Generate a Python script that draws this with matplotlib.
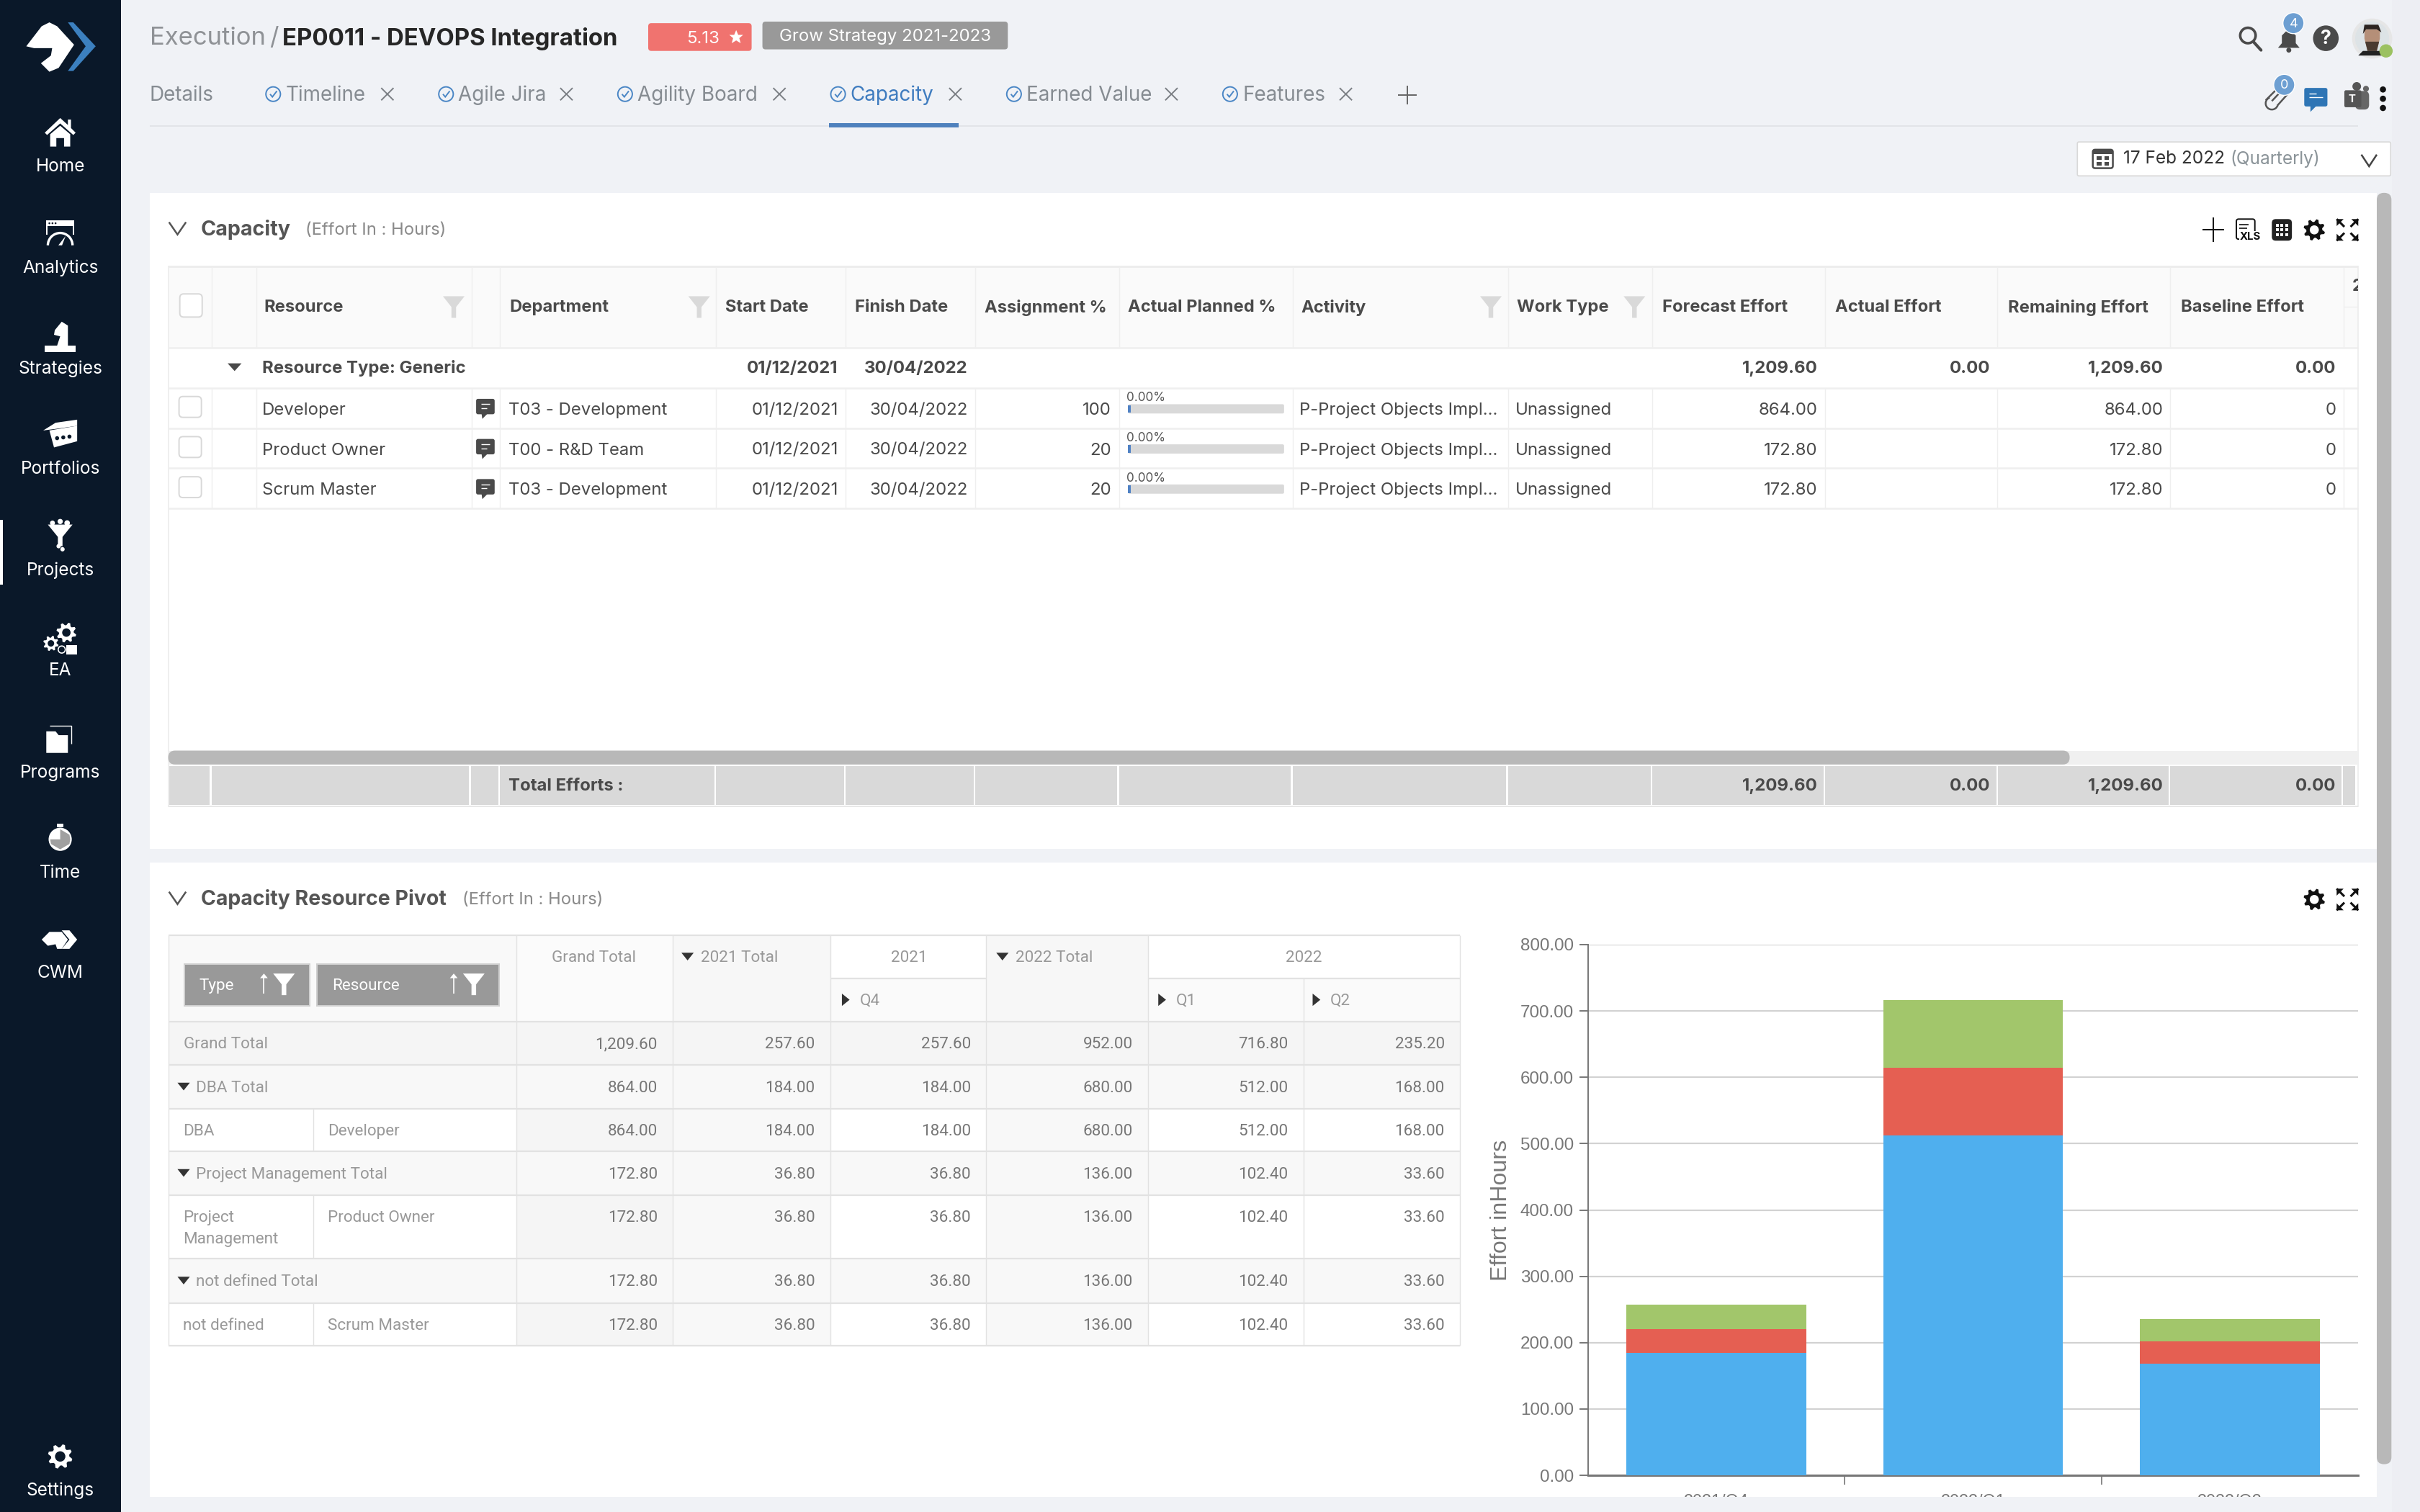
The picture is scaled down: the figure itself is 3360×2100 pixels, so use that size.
"""
Capacity dashboard screenshot redrawn with matplotlib.

The page furniture is drawn on one full-figure axes in screen units (1568 x 980),
the stacked bar chart is a normal axes placed on top of it.
"""

import matplotlib
matplotlib.use("Agg")

import matplotlib.pyplot as plt
import numpy as np
from matplotlib.patches import Arc, Circle, FancyBboxPatch, Polygon, Rectangle
from matplotlib.transforms import Bbox

UI_FONT = "Inter"
CHART_FONT = "Liberation Sans"

NAV_LABELS = ["Home", "Analytics", "Strategies", "Portfolios", "Projects", "EA", "Programs", "Time", "CWM", "Settings"]
TAB_LABELS = ["Timeline", "Agile Jira", "Agility Board", "Capacity", "Earned Value", "Features"]

GRID_HEADERS = ["Resource", "Department", "Start Date", "Finish Date", "Assignment %", "Actual Planned %", "Activity",
                "Work Type", "Forecast Effort", "Actual Effort", "Remaining Effort", "Baseline Effort"]
GRID_RESOURCES = ["Developer", "Product Owner", "Scrum Master"]
GRID_DEPARTMENTS = ["T03 - Development", "T00 - R&D Team", "T03 - Development"]
GRID_ASSIGNMENT = ["100", "20", "20"]
GRID_FORECAST = ["864.00", "172.80", "172.80"]
GRID_REMAINING = ["864.00", "172.80", "172.80"]
GRID_BASELINE = ["0", "0", "0"]
GRID_TOTALS = ["1,209.60", "0.00", "1,209.60", "0.00"]

PIVOT_ROWS = ["Grand Total", "DBA Total", "DBA", "Project Management Total", "Project\nManagement",
              "not defined Total", "not defined"]
PIVOT_RESOURCES = [None, None, "Developer", None, "Product Owner", None, "Scrum Master"]
PIVOT_GRAND = ["1,209.60", "864.00", "864.00", "172.80", "172.80", "172.80", "172.80"]
PIVOT_2021_TOTAL = ["257.60", "184.00", "184.00", "36.80", "36.80", "36.80", "36.80"]
PIVOT_Q4 = ["257.60", "184.00", "184.00", "36.80", "36.80", "36.80", "36.80"]
PIVOT_2022_TOTAL = ["952.00", "680.00", "680.00", "136.00", "136.00", "136.00", "136.00"]
PIVOT_Q1 = ["716.80", "512.00", "512.00", "102.40", "102.40", "102.40", "102.40"]
PIVOT_Q2 = ["235.20", "168.00", "168.00", "33.60", "33.60", "33.60", "33.60"]

QUARTERS = ["2021/Q4", "2022/Q1", "2022/Q2"]
DBA_HOURS = [184.0, 512.0, 168.0]
PROJECT_MGMT_HOURS = [36.8, 102.4, 33.6]
NOT_DEFINED_HOURS = [36.8, 102.4, 33.6]
Y_TICKS = [0, 100, 200, 300, 400, 500, 600, 700, 800]

fig = plt.figure(figsize=(16.8, 10.5), dpi=200, facecolor="#F0F2F6")
ui = fig.add_axes([0, 0, 1, 1])
ui.set_xlim(0, 1568)
ui.set_ylim(980, 0)
ui.axis("off")


def fs(px):
    # screen px -> points at this figure size
    return px * 0.771


def box(x0, y0, x1, y1, color, z=1):
    ui.add_patch(Rectangle((x0, y0), x1 - x0, y1 - y0, facecolor=color, edgecolor="none", zorder=z))


def rbox(x0, y0, x1, y1, color, r=2, edge="none", lw=0, z=2):
    ui.add_patch(FancyBboxPatch((x0 + r, y0 + r), x1 - x0 - 2 * r, y1 - y0 - 2 * r,
                                boxstyle=f"round,pad={r},rounding_size={r}", facecolor=color, edgecolor=edge,
                                linewidth=lw, zorder=z))


def line(xs, ys, color, lw=0.5, z=3, cap="butt"):
    ui.plot(xs, ys, color=color, lw=lw, zorder=z, solid_capstyle=cap, solid_joinstyle="miter")


def poly(points, color, ox=0, oy=0, k=1.0, z=4):
    pts = [(ox + px * k, oy + py * k) for px, py in points]
    ui.add_patch(Polygon(pts, closed=True, facecolor=color, edgecolor="none", zorder=z))


def dot(x, y, r, color, z=4, edge="none", lw=0):
    ui.add_patch(Circle((x, y), r, facecolor=color, edgecolor=edge, linewidth=lw, zorder=z))


def txt(x, y, s, px=11.2, color="#4A4A4A", ha="left", weight="normal", family=UI_FONT, z=6):
    # the text box sits about one screen px high with va=center
    return ui.text(x, y + 0.9, s, fontsize=fs(px), color=color, ha=ha, va="center", fontweight=weight, family=family,
                   zorder=z)


def gear(x, y, r, color, hole, z=5, teeth=8):
    ang = np.linspace(0, 2 * np.pi, teeth * 4, endpoint=False)
    rad = np.where(np.arange(teeth * 4) % 4 < 2, r, r * 0.74)
    poly(list(zip(x + rad * np.cos(ang + 0.2), y + rad * np.sin(ang + 0.2))), color, z=z)
    dot(x, y, r * 0.42, hole, z=z + 0.1)


def funnel(x, y, color, k=1.0, z=5):
    poly([(-7, -7), (7, -7), (1.5, 0), (1.5, 7), (-1.5, 7), (-1.5, 0)], color, x, y, k, z)


def chevron(x, y, w, h, color, lw=1.0):
    line([x - w, x, x + w], [y - h, y + h, y - h], color, lw, z=5)


def expand_icon(x, y, color="#111111"):
    for sx in (-1, 1):
        for sy in (-1, 1):
            line([x + sx * 7, x + sx * 2], [y + sy * 7, y + sy * 2], color, 1.1, z=5)
            poly([(sx * 7, sy * 7), (sx * 2.5, sy * 7), (sx * 7, sy * 2.5)], color, x, y, 1, 5)


def comment_icon(x, y, color="#4A4A4A"):
    rbox(x - 6, y - 6, x + 6, y + 4, color, r=1.2, z=5)
    poly([(-2.5, 3.5), (1.5, 3.5), (-2, 7)], color, x, y, 1, 5)
    line([x - 3, x + 3], [y - 2.5, y - 2.5], "white", 0.5, z=6)
    line([x - 3, x + 1], [y, y], "white", 0.5, z=6)


def check_icon(x, y, color="#4A86C5"):
    dot(x, y, 4.7, "none", edge=color, lw=0.7)
    line([x - 2, x - 0.5, x + 2.4], [y, y + 1.8, y - 2], color, 0.7, z=5)


# frame and panels
box(1550, 0, 1568, 980, "#EDEEF3", 0.5)
box(0, 0, 78.5, 980, "#0A1829")
box(97, 125, 1540, 550, "white")
box(97, 559, 1540, 970, "white")
rbox(1540, 125, 1549.5, 949, "#B8B8B8", r=4.5)

# sidebar
nav_y = [107, 173, 238, 303, 369, 434, 500, 565, 630, 965]
for label, y in zip(NAV_LABELS, nav_y):
    txt(39, y, label, 11.4, "white", ha="center")
box(0, 337, 2, 379, "white", 3)

poly([(17, 30), (27, 17), (32, 14.5), (37, 17), (48, 29), (38, 44), (32, 46.5), (26.5, 41), (33, 36), (33.8, 31.2),
      (22, 31.2)], "white")
poly([(44, 14.5), (47.5, 14.5), (62, 30), (47.5, 46), (44, 46), (55.5, 30)], "#3C80BF")

poly([(0, -9.5), (5, -5), (5, -8.5), (7, -8.5), (7, -3), (10, 0), (8.5, 1.5), (0, -6), (-8.5, 1.5), (-10, 0)], "white", 39, 86)
poly([(-6.5, 1), (0, -4.5), (6.5, 1), (6.5, 9), (2.5, 9), (2.5, 3.5), (-2.5, 3.5), (-2.5, 9), (-6.5, 9)], "white", 39, 86)

box(30, 143, 48, 146.5, "white", 5)
line([30.3, 30.3], [146, 152], "white", 0.7, z=5)
line([47.7, 47.7], [146, 152], "white", 0.7, z=5)
for dx in (32, 34, 36):
    dot(dx, 144.7, 0.6, "#0A1829", 5.2)
ui.add_patch(Arc((39, 159), 16, 16, theta1=180, theta2=360, edgecolor="white", lw=1.2, zorder=5))
poly([(-1.2, 1), (1.2, 1), (3.5, -5)], "white", 39, 158, 1, 5.5)

poly([(-3, 7), (-1, 1), (-5, 0), (-4.5, -3), (0, -8.5), (4, -6), (4, 7)], "white", 40, 217)
box(29, 224, 49, 228, "white", 4)

poly([(-11, -2), (-3, -7), (11, -9), (11, -5), (-3, -3)], "white", 39, 281)
poly([(-7, -2), (11, -5), (11, 5), (-4, 9)], "white", 39, 281)
dot(37, 284, 1.3, "#0A1829", 5)
dot(41, 283.5, 1.3, "#0A1829", 5)
dot(45, 283, 1.3, "#0A1829", 5)

poly([(-8, -6), (8, -6), (1.5, 2), (1.5, 8), (-1.5, 8), (-1.5, 2)], "white", 39, 346)
for dx, dy, r in [(-5, -7, 1.6), (0, -8, 1.7), (4.5, -7, 1.8), (-1, 8, 1.4), (1.5, 10, 1.4)]:
    dot(39 + dx, 346 + dy, r, "white")

gear(43, 410, 6.5, "white", "#0A1829")
gear(33, 417, 5, "white", "#0A1829")
box(43, 418, 50, 424, "white", 5.5)
dot(40, 421, 2.3, "none", edge="white", lw=0.6)

poly([(-8, -5), (-2, -5), (0, -2.5), (6, -2.5), (6, 9), (-8, 9)], "white", 38, 479)
line([32, 46, 46], [470.5, 470.5, 482], "white", 0.5, z=4)

dot(39, 544, 7.5, "white")
box(37, 534, 41, 536, "white", 4)
poly([(0, 0), (0, -6.5), (6, -3), (6.5, 0), (6, 3), (0, 6.5), (-6, 3), (-6.5, 0)], "#A0A0A0", 39, 544, 1, 5)

poly([(-10, 0), (-5, -5), (3, -5), (7, 0), (3, 6), (0, 6), (-1, 3), (-6, 4)], "white", 37, 609)
poly([(1, -6), (6, -6), (11, 0), (6, 6), (1, 6), (6, 0)], "white", 39, 609)

gear(39, 944, 8, "white", "#0A1829")

# title row
txt(97, 24, "Execution", 16.2, "#8F9296")
txt(174.5, 24, "/", 16.2, "#8F9296")
txt(183, 24.5, "EP0011 - DEVOPS Integration", 15.4, "#262626", weight="bold")
rbox(420, 15, 487, 33, "#F0736F", r=2)
txt(466, 24.5, "5.13", 11.2, "white", ha="right")
poly([(0, -4.5), (1.3, -1.4), (4.5, -1.4), (2, 0.7), (2.9, 4), (0, 2.2), (-2.9, 4), (-2, 0.7), (-4.5, -1.4),
      (-1.3, -1.4)], "white", 477, 24)
rbox(494, 14, 653, 32, "#999999", r=2)
txt(505, 23, "Grow Strategy 2021-2023", 11.2, "white")

# tabs
line([97, 1528], [81.5, 81.5], "#E0E2E6", 0.6, z=2)
box(537, 80, 621, 82.5, "#4F81BD", 3)
txt(97, 61, "Details", 13, "#868C92")
tab_icon_x = [177, 289, 405, 543, 657, 797]
tab_close_x = [251, 367, 505, 619, 759, 872]
for label, ix, cx in zip(TAB_LABELS, tab_icon_x, tab_close_x):
    check_icon(ix, 61)
    txt(ix + 8, 61, label, 13, "#3F7CBF" if label == "Capacity" else "#868C92")
    line([cx - 4, cx + 4], [57, 65], "#7B7F84", 0.7, z=5)
    line([cx - 4, cx + 4], [65, 57], "#7B7F84", 0.7, z=5)
line([906, 918], [61.5, 61.5], "#666666", 0.7)
line([912, 912], [55.5, 67.5], "#666666", 0.7)

# top right icons
dot(1456.5, 23, 5, "none", edge="#4A4A4A", lw=1.3, z=5)
line([1460, 1465], [27, 32.5], "#4A4A4A", 1.5, z=5, cap="round")
poly([(-7, 5), (-4.5, 2), (-4.5, -3), (0, -7.5), (4.5, -3), (4.5, 2), (7, 5)], "#4A4A4A", 1483, 26)
dot(1483, 32.5, 1.6, "#4A4A4A")
dot(1486, 15, 6.8, "#6D9FD2", z=5, edge="white", lw=0.5)
txt(1486, 14.5, "4", 8.5, "white", ha="center")
dot(1507, 24.8, 8.3, "#4A4A4A")
txt(1507, 24.3, "?", 12.5, "white", ha="center", weight="bold")
dot(1537, 25, 13, "#E6E6E6")
dot(1537, 25, 11, "#DDE3E6")
poly([(-5, -6), (5, -6), (5, 0), (3, 8), (-3, 8), (-5, 0)], "#B58F78", 1537, 25)
poly([(-6, -3), (-5, -9), (4, -9), (6, -4), (3, -6), (-4, -6)], "#2C2420", 1537, 25)
poly([(-4.5, 2), (4.5, 2), (3, 8), (-3, 8)], "#4A3A30", 1537, 25)
poly([(-9, 11), (-6, 8), (6, 8), (8, 11)], "#222222", 1537, 25)
dot(1546, 33, 4.3, "#9BC160", z=5)

ui.add_patch(Arc((1472, 67), 8, 8, theta1=20, theta2=250, edgecolor="#555555", lw=0.9, zorder=4))
line([1468, 1478], [65, 55], "#555555", 0.9, z=4)
line([1475.5, 1484], [68.5, 59], "#555555", 0.9, z=4)
line([1472, 1480], [65.5, 57], "#555555", 0.9, z=4)
dot(1480, 55, 6.8, "#6D9FD2", z=5, edge="white", lw=0.5)
txt(1480, 54.5, "0", 8.5, "white", ha="center")
rbox(1493, 57, 1508, 69, "#2E75B5", r=1.2, z=4)
poly([(0, 0), (4, 0), (0, 4)], "#2E75B5", 1497, 68.5)
line([1496, 1501], [60.5, 60.5], "white", 0.5, z=5)
line([1496, 1505], [63, 63], "white", 0.5, z=5)
rbox(1519, 58.5, 1530, 69.5, "#555555", r=1, z=4)
rbox(1526, 59, 1535, 71, "#666666", r=3, z=3.5)
dot(1527, 56, 2.8, "#555555")
dot(1533, 57.5, 1.9, "#666666")
txt(1524, 63.5, "T", 7, "white", ha="center", weight="bold")
for ky in (58, 64, 70):
    dot(1544, ky, 2, "#111111")

# date picker
rbox(1346, 92, 1549, 114, "white", r=1, edge="#D8D8D8", lw=0.6)
rbox(1356, 97, 1369, 109, "none", r=1.5, edge="#4A4A4A", lw=0.9, z=5)
box(1356, 97, 1369, 100, "#4A4A4A", 5)
for cx_, cy_ in [(1360, 102.5), (1365, 102.5), (1360, 106), (1365, 106)]:
    box(cx_ - 1.5, cy_ - 1.2, cx_ + 1.5, cy_ + 1.2, "#4A4A4A", 5)
txt(1375.5, 102, "17 Feb 2022", 11.4, "#333333")
txt(1445, 102, "(Quarterly)", 11.4, "#8B9499")
chevron(1535, 104, 5, 3.8, "#444444", 0.9)

# capacity panel
chevron(115, 148, 5.5, 4, "#555555", 0.9)
txt(130, 148, "Capacity", 13.4, "#555555", weight="bold")
txt(198, 148.5, "(Effort In : Hours)", 11.1, "#8A8A8A")

line([1434, 1434], [141, 157], "#111111", 0.7)
line([1427, 1441], [149, 149], "#111111", 0.7)
rbox(1449, 142, 1461, 155, "none", r=1.5, edge="#111111", lw=0.7, z=5)
line([1451, 1457], [145.5, 145.5], "#111111", 0.6, z=5)
line([1451, 1456], [148, 148], "#111111", 0.6, z=5)
box(1451, 150, 1466, 157, "white", 5.2)
txt(1458, 152.5, "XLS", 7, "#111111", ha="center", weight="bold")
rbox(1472, 142, 1485, 156, "#222222", r=2.5, z=4)
for gx in (1475.5, 1478.5, 1481.5):
    for gy in (146, 149, 152):
        box(gx - 1, gy - 1, gx + 1, gy + 1, "white", 5)
gear(1499.5, 149, 7, "#111111", "white")
expand_icon(1521, 149)

col_x = [109, 137, 166, 305.5, 324, 464, 548, 632, 725, 837.5, 977, 1070.5, 1182.5, 1294, 1406, 1518.5, 1528]
box(109, 172, 1528, 226, "#FAFAFA")
box(109, 172, 1528, 173.5, "#EDEDED", 2)
for y in (225.5, 251.5, 277.5, 303.5, 329.5):
    line([109, 1528], [y, y], "#EFEFEF", 0.9, z=2)
for x in col_x[1:-1]:
    line([x, x], [173, 225], "#EFEFEF", 0.5, z=2)
    line([x, x], [252, 329], "#EFEFEF", 0.5, z=2)
line([109, 109], [172, 523], "#ECECEC", 0.6, z=2)
line([1528, 1528], [172, 523], "#ECECEC", 0.6, z=2)
line([1518.5, 1528], [199, 199], "#EFEFEF", 0.5, z=2)
line([109, 1528], [522.8, 522.8], "#E8E8E8", 0.7, z=2)

header_x = [171, 330, 470, 554, 638, 731, 843, 983, 1077, 1189, 1301, 1413]
for label, x in zip(GRID_HEADERS, header_x):
    txt(x, 198.5, label, 11.1, "#4A4A4A", weight="bold")
for x in (294, 453, 966, 1059):
    funnel(x, 199, "#D9D9D9")
cut = txt(1524, 185, "2", 11.2, "#4A4A4A", weight="bold")
cut.set_clip_box(Bbox([[0, 0], [3274, 2100]]))
cut.set_clip_on(True)
rbox(116.5, 190.5, 131, 205.5, "white", r=2.5, edge="#D8D8D8", lw=0.7)

poly([(-4.5, -2.5), (4.5, -2.5), (0, 2.5)], "#4A4A4A", 152, 238)
txt(170, 238, "Resource Type: Generic", 11.2, "#4A4A4A", weight="bold")
txt(543, 238, "01/12/2021", 11.2, "#4A4A4A", ha="right", weight="bold")
txt(627, 238, "30/04/2022", 11.2, "#4A4A4A", ha="right", weight="bold")
for value, x in zip(GRID_TOTALS, (1177.5, 1289.5, 1401.5, 1513.5)):
    txt(x, 238, value, 11.2, "#4A4A4A", ha="right", weight="bold")

row_y = [265, 291, 317]
for i, y in enumerate(row_y):
    rbox(116, y - 8, 130.5, y + 5.5, "white", r=2.5, edge="#D8D8D8", lw=0.7)
    txt(170, y, GRID_RESOURCES[i])
    comment_icon(314.5, y - 0.5)
    txt(329.5, y, GRID_DEPARTMENTS[i])
    txt(543, y, "01/12/2021", ha="right")
    txt(627, y, "30/04/2022", ha="right")
    txt(720, y, GRID_ASSIGNMENT[i], ha="right")
    txt(730, y - 8, "0.00%", 8, "#555555")
    rbox(731, y - 3, 832, y + 3, "#D9D9D9", r=1)
    box(731, y - 2.5, 732.5, y + 2.5, "#4F81C4", 3)
    txt(842, y, "P-Project Objects Impl...")
    txt(982, y, "Unassigned")
    txt(1177.5, y, GRID_FORECAST[i], ha="right")
    txt(1401.5, y, GRID_REMAINING[i], ha="right")
    txt(1513.5, y, GRID_BASELINE[i], ha="right")

box(109, 486.5, 1528, 495.5, "#F0F0F0", 2)
rbox(109, 486.5, 1341, 495.5, "#B8B8B8", r=4.4, z=3)
total_x = [109.5, 137, 305, 324, 464, 548, 632, 725, 837.5, 977, 1070.5, 1182.5, 1294.5, 1406, 1518, 1527]
for x0, x1 in zip(total_x[:-1], total_x[1:]):
    box(x0, 496.5, x1 - 1, 521.7, "#D9D9D9", 2)
txt(329.5, 508.5, "Total Efforts :", 11.2, "#4A4A4A", weight="bold")
for value, x in zip(GRID_TOTALS, (1177.5, 1289.5, 1401.5, 1513.5)):
    txt(x, 508.5, value, 11.2, "#4A4A4A", ha="right", weight="bold")

# pivot panel
chevron(115, 582, 5.5, 4, "#555555", 0.9)
txt(130, 582, "Capacity Resource Pivot", 13.3, "#555555", weight="bold")
txt(299.5, 582.5, "(Effort In : Hours)", 11.1, "#8A8A8A")
gear(1499.5, 583, 7, "#111111", "white")
expand_icon(1521, 583)

px_ = [109, 203, 334.5, 436, 538, 639, 744, 844.5, 946]
py_ = [606, 634, 662, 690, 718.5, 746, 774.5, 815.5, 844.5, 872]
box(109, 606, 334.5, 662, "#F9F9F9")
box(334.5, 606, 436, 662, "#FBFBFB")
box(436, 606, 538, 662, "#F7F7F7")
box(538, 634, 639, 662, "#FAFAFA")
box(639, 606, 744, 662, "#F7F7F7")
box(744, 634, 946, 662, "#FAFAFA")

pivot_cols = [PIVOT_GRAND, PIVOT_2021_TOTAL, PIVOT_Q4, PIVOT_2022_TOTAL, PIVOT_Q1, PIVOT_Q2]
for r in range(7):
    y0, y1 = py_[r + 2], py_[r + 3]
    if r == 0:
        box(109, y0, 946, y1, "#F5F5F5")
    elif PIVOT_RESOURCES[r] is None:
        box(109, y0, 946, y1, "#F8F8F8")
    else:
        box(334.5, y0, 436, y1, "#F5F5F5")
        box(436, y0, 538, y1, "#F8F8F8")
        box(639, y0, 744, y1, "#F8F8F8")
    text_y = (y0 + y1) / 2 if r != 4 else y0 + 14
    if PIVOT_RESOURCES[r] is None:
        label_x = 119
        if r > 0:
            poly([(-4, -2.5), (4, -2.5), (0, 2.5)], "#333333", 119, text_y)
            label_x = 127
        txt(label_x, text_y, PIVOT_ROWS[r], 10.5, "#999999", family="Roboto")
    else:
        if r == 4:
            txt(118.5, text_y, "Project", 10.5, "#999999", family="Roboto")
            txt(118.5, text_y + 14, "Management", 10.5, "#999999", family="Roboto")
        else:
            txt(118.5, text_y, PIVOT_ROWS[r], 10.5, "#999999", family="Roboto")
        txt(212.5, text_y, PIVOT_RESOURCES[r], 10.5, "#999999", family="Roboto")
    for c, col in enumerate(pivot_cols):
        txt(px_[c + 3] - 10, text_y, col[r], 10.5, "#777777", ha="right", family="Roboto")

GRID_LINE = "#E2E2E2"
for y in py_[2:]:
    line([109, 946], [y, y], GRID_LINE, 0.8, z=3)
line([109, 946], [606, 606], GRID_LINE, 0.8, z=3)
line([538, 639], [634, 634], GRID_LINE, 0.8, z=3)
line([744, 946], [634, 634], GRID_LINE, 0.8, z=3)
for x in px_[2:6] + [946]:
    line([x, x], [606, 872], GRID_LINE, 0.5, z=3)
line([109, 109], [606, 872], GRID_LINE, 0.5, z=3)
line([744, 744], [606, 872], GRID_LINE, 0.5, z=3)
line([844.5, 844.5], [634, 872], GRID_LINE, 0.5, z=3)
for r in (2, 4, 6):
    line([203, 203], [py_[r + 2], py_[r + 3]], GRID_LINE, 0.5, z=3)

txt(385, 620, "Grand Total", 10.5, "#999999", ha="center", family="Roboto")
poly([(-4, -2.5), (4, -2.5), (0, 2.5)], "#333333", 445.5, 620)
txt(454, 620, "2021 Total", 10.5, "#999999", family="Roboto")
txt(589, 620, "2021", 10.5, "#999999", ha="center", family="Roboto")
poly([(-4, -2.5), (4, -2.5), (0, 2.5)], "#333333", 649.5, 620)
txt(658, 620, "2022 Total", 10.5, "#999999", family="Roboto")
txt(845, 620, "2022", 10.5, "#999999", ha="center", family="Roboto")
for x, label in [(548, "Q4"), (753, "Q1"), (853, "Q2")]:
    poly([(-2.5, -4), (2.5, 0), (-2.5, 4)], "#333333", x, 648)
    txt(x + 9, 648, label, 10.5, "#999999", family="Roboto")

for x0, x1, label, label_x in [(119, 201, "Type", 129), (205, 324, "Resource", 215)]:
    box(x0, 624.5, x1, 652.5, "#D0D0D0", 3)
    box(x0 + 1, 625.5, x1 - 1, 651.5, "#999999", 3.1)
    txt(label_x, 638, label, 10.5, "white", family="Roboto")
    line([x1 - 30, x1 - 30], [632, 644], "white", 0.6, z=5)
    poly([(-2.5, 3), (0, 0), (2.5, 3)], "white", x1 - 30, 631)
    funnel(x1 - 17, 638, "white")

# stacked bars, placed in screen px of the 3360 wide picture
chart = fig.add_axes([2205 / 3360, 1 - 2049 / 2100, (3274 - 2205) / 3360, (2049 - 1312) / 2100])
chart.patch.set_alpha(0)
centers = np.arange(len(QUARTERS)) + 0.5
dba = np.array(DBA_HOURS)
pm = np.array(PROJECT_MGMT_HOURS)
nd = np.array(NOT_DEFINED_HOURS)
chart.bar(centers, dba, width=0.7, color="#4FAFEE", zorder=3)
chart.bar(centers, pm, width=0.7, bottom=dba, color="#E55F52", zorder=3)
chart.bar(centers, nd, width=0.7, bottom=dba + pm, color="#A2C66B", zorder=3)
chart.set_xlim(0, 3)
chart.set_ylim(0, 800)
chart.set_yticks(Y_TICKS)
chart.set_yticklabels([f"{v:.2f}" for v in Y_TICKS], fontsize=fs(11.3), color="#777777", family=CHART_FONT)
chart.tick_params(axis="y", length=4.3, width=0.7, color="#777777", pad=3)
chart.grid(axis="y", color="#D2D2D2", lw=0.8, zorder=1)
chart.set_axisbelow(True)
chart.set_xticks([1, 2])
chart.set_xticklabels([])
chart.tick_params(axis="x", length=4.5, width=0.6, color="#777777")
chart.set_xticks(centers, minor=True)
chart.set_xticklabels(QUARTERS, minor=True, fontsize=fs(11), color="#777777", family=CHART_FONT)
chart.tick_params(axis="x", which="minor", length=0, pad=9.5)
for lbl in chart.get_xticklabels(minor=True):
    lbl.set_clip_box(Bbox([[0, 2100 - 2079], [3360, 2100]]))
    lbl.set_clip_on(True)
for side in ("top", "right"):
    chart.spines[side].set_visible(False)
chart.spines["left"].set_color("#777777")
chart.spines["left"].set_linewidth(0.7)
chart.spines["bottom"].set_color("#777777")
chart.spines["bottom"].set_linewidth(1.1)
chart.set_ylabel("Effort inHours", fontsize=fs(15), color="#777777", family=CHART_FONT, labelpad=4)

fig.savefig("out.png", dpi=200, facecolor=fig.get_facecolor())
